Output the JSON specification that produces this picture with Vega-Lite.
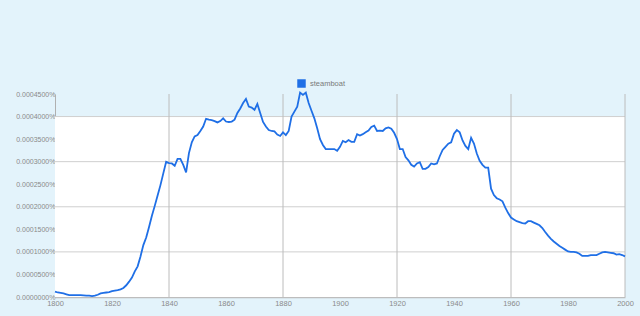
{
  "$schema": "https://vega.github.io/schema/vega-lite/v6.json",
  "width": 570,
  "height": 203,
  "autosize": {"type": "none"},
  "padding": {"left": 55, "top": 94, "right": 15, "bottom": 19},
  "background": "#e3f3fb",
  "config": {
    "view": {"stroke": null},
    "font": "Liberation Sans",
    "axis": {"grid": false, "ticks": false, "labelColor": "#8a8a8a", "labelFont": "Liberation Sans", "labelFlush": false},
    "axisX": {"labelFontSize": 7.5, "labelPadding": 2, "domainColor": "#bdbdbd", "domainWidth": 1.5},
    "axisY": {"labelFontSize": 7, "labelPadding": 0, "domainColor": "#b0b0b0", "domainWidth": 1}
  },
  "datasets": {
    "hgrid": [{"v": 0.0001}, {"v": 0.0002}, {"v": 0.0003}, {"v": 0.0004}],
    "vgrid": [{"year": 1840}, {"year": 1880}, {"year": 1920}, {"year": 1960}, {"year": 2000}],
    "series": [
      {"year":1800,"v":0.000012},{"year":1801,"v":0.000010},{"year":1802,"v":0.000009},{"year":1803,"v":0.000008},{"year":1804,"v":0.000006},
      {"year":1805,"v":0.000004},{"year":1806,"v":0.000004},{"year":1807,"v":0.000004},{"year":1808,"v":0.000004},{"year":1809,"v":0.000004},
      {"year":1810,"v":0.0000035},{"year":1811,"v":0.000003},{"year":1812,"v":0.000003},{"year":1813,"v":0.000002},{"year":1814,"v":0.000003},
      {"year":1815,"v":0.000005},{"year":1816,"v":0.000008},{"year":1817,"v":0.000009},{"year":1818,"v":0.000010},{"year":1819,"v":0.000011},
      {"year":1820,"v":0.000013},{"year":1821,"v":0.000014},{"year":1822,"v":0.000015},{"year":1823,"v":0.000017},{"year":1824,"v":0.000020},
      {"year":1825,"v":0.000026},{"year":1826,"v":0.000034},{"year":1827,"v":0.000043},{"year":1828,"v":0.000057},{"year":1829,"v":0.000068},
      {"year":1830,"v":0.000090},{"year":1831,"v":0.000115},{"year":1832,"v":0.000132},{"year":1833,"v":0.000155},{"year":1834,"v":0.000180},
      {"year":1835,"v":0.000202},{"year":1836,"v":0.000225},{"year":1837,"v":0.000248},{"year":1838,"v":0.000274},{"year":1839,"v":0.000300},
      {"year":1840,"v":0.000297},{"year":1841,"v":0.000296},{"year":1842,"v":0.000291},{"year":1843,"v":0.000306},{"year":1844,"v":0.000306},
      {"year":1845,"v":0.000293},{"year":1846,"v":0.000276},{"year":1847,"v":0.000319},{"year":1848,"v":0.000343},{"year":1849,"v":0.000356},
      {"year":1850,"v":0.000359},{"year":1851,"v":0.000368},{"year":1852,"v":0.000378},{"year":1853,"v":0.000395},{"year":1854,"v":0.000393},
      {"year":1855,"v":0.000392},{"year":1856,"v":0.000390},{"year":1857,"v":0.000387},{"year":1858,"v":0.000390},{"year":1859,"v":0.000396},
      {"year":1860,"v":0.000389},{"year":1861,"v":0.000388},{"year":1862,"v":0.000389},{"year":1863,"v":0.000393},{"year":1864,"v":0.000408},
      {"year":1865,"v":0.000418},{"year":1866,"v":0.000430},{"year":1867,"v":0.000439},{"year":1868,"v":0.000422},{"year":1869,"v":0.000420},
      {"year":1870,"v":0.000415},{"year":1871,"v":0.000428},{"year":1872,"v":0.000408},{"year":1873,"v":0.000388},{"year":1874,"v":0.000378},
      {"year":1875,"v":0.000370},{"year":1876,"v":0.000368},{"year":1877,"v":0.000367},{"year":1878,"v":0.000360},{"year":1879,"v":0.000357},
      {"year":1880,"v":0.000365},{"year":1881,"v":0.000359},{"year":1882,"v":0.000368},{"year":1883,"v":0.000400},{"year":1884,"v":0.000411},
      {"year":1885,"v":0.000422},{"year":1886,"v":0.000453},{"year":1887,"v":0.000448},{"year":1888,"v":0.000453},{"year":1889,"v":0.000430},
      {"year":1890,"v":0.000413},{"year":1891,"v":0.000396},{"year":1892,"v":0.000374},{"year":1893,"v":0.000350},{"year":1894,"v":0.000337},
      {"year":1895,"v":0.000328},{"year":1896,"v":0.000328},{"year":1897,"v":0.000328},{"year":1898,"v":0.000328},{"year":1899,"v":0.000324},
      {"year":1900,"v":0.000333},{"year":1901,"v":0.000346},{"year":1902,"v":0.000343},{"year":1903,"v":0.000348},{"year":1904,"v":0.000344},
      {"year":1905,"v":0.000344},{"year":1906,"v":0.000361},{"year":1907,"v":0.000358},{"year":1908,"v":0.000361},{"year":1909,"v":0.000365},
      {"year":1910,"v":0.000369},{"year":1911,"v":0.000377},{"year":1912,"v":0.000380},{"year":1913,"v":0.000368},{"year":1914,"v":0.000369},
      {"year":1915,"v":0.000368},{"year":1916,"v":0.000374},{"year":1917,"v":0.000376},{"year":1918,"v":0.000373},{"year":1919,"v":0.000364},
      {"year":1920,"v":0.000350},{"year":1921,"v":0.000328},{"year":1922,"v":0.000328},{"year":1923,"v":0.000310},{"year":1924,"v":0.000303},
      {"year":1925,"v":0.000293},{"year":1926,"v":0.000289},{"year":1927,"v":0.000296},{"year":1928,"v":0.000299},{"year":1929,"v":0.000284},
      {"year":1930,"v":0.000284},{"year":1931,"v":0.000288},{"year":1932,"v":0.000296},{"year":1933,"v":0.000294},{"year":1934,"v":0.000296},
      {"year":1935,"v":0.000312},{"year":1936,"v":0.000326},{"year":1937,"v":0.000333},{"year":1938,"v":0.000340},{"year":1939,"v":0.000343},
      {"year":1940,"v":0.000362},{"year":1941,"v":0.000370},{"year":1942,"v":0.000365},{"year":1943,"v":0.000347},{"year":1944,"v":0.000335},
      {"year":1945,"v":0.000328},{"year":1946,"v":0.000353},{"year":1947,"v":0.000340},{"year":1948,"v":0.000318},{"year":1949,"v":0.000302},
      {"year":1950,"v":0.000293},{"year":1951,"v":0.000287},{"year":1952,"v":0.000287},{"year":1953,"v":0.000240},{"year":1954,"v":0.000226},
      {"year":1955,"v":0.000219},{"year":1956,"v":0.000216},{"year":1957,"v":0.000212},{"year":1958,"v":0.000198},{"year":1959,"v":0.000186},
      {"year":1960,"v":0.000176},{"year":1961,"v":0.000172},{"year":1962,"v":0.000168},{"year":1963,"v":0.000166},{"year":1964,"v":0.000164},
      {"year":1965,"v":0.000163},{"year":1966,"v":0.000168},{"year":1967,"v":0.000168},{"year":1968,"v":0.000165},{"year":1969,"v":0.000162},
      {"year":1970,"v":0.000159},{"year":1971,"v":0.000153},{"year":1972,"v":0.000144},{"year":1973,"v":0.000136},{"year":1974,"v":0.000129},
      {"year":1975,"v":0.000123},{"year":1976,"v":0.000118},{"year":1977,"v":0.000113},{"year":1978,"v":0.000109},{"year":1979,"v":0.000105},
      {"year":1980,"v":0.000101},{"year":1981,"v":0.000100},{"year":1982,"v":0.000100},{"year":1983,"v":0.000099},{"year":1984,"v":0.000096},
      {"year":1985,"v":0.000091},{"year":1986,"v":0.000091},{"year":1987,"v":0.000091},{"year":1988,"v":0.000093},{"year":1989,"v":0.000093},
      {"year":1990,"v":0.000093},{"year":1991,"v":0.000096},{"year":1992,"v":0.000099},{"year":1993,"v":0.000100},{"year":1994,"v":0.000099},
      {"year":1995,"v":0.000098},{"year":1996,"v":0.000097},{"year":1997,"v":0.000094},{"year":1998,"v":0.000095},{"year":1999,"v":0.000093},
      {"year":2000,"v":0.000090}
    ]
  },
  "layer": [
    {
      "data": {"values": [{"x0": 1800, "x1": 2000, "y0": 0, "y1": 0.0004}]},
      "mark": {"type": "rect", "color": "#ffffff"},
      "encoding": {
        "x": {"field": "x0", "type": "quantitative", "scale": {"domain": [1800, 2000], "nice": false},
              "axis": {"title": null, "values": [1800, 1820, 1840, 1860, 1880, 1900, 1920, 1940, 1960, 1980, 2000], "format": "d"}},
        "x2": {"field": "x1"},
        "y": {"field": "y0", "type": "quantitative", "scale": {"domain": [0, 0.00045], "nice": false},
              "axis": {"title": null, "values": [0, 0.00005, 0.0001, 0.00015, 0.0002, 0.00025, 0.0003, 0.00035, 0.0004, 0.00045], "labelExpr": "format(datum.value, '.7f') + '%'"}},
        "y2": {"field": "y1"}
      }
    },
    {
      "data": {"name": "hgrid"},
      "mark": {"type": "rule", "color": "#cfcfcf", "strokeWidth": 1},
      "encoding": {
        "y": {"field": "v", "type": "quantitative", "scale": {"domain": [0, 0.00045], "nice": false},
              "axis": {"title": null, "values": [0, 0.00005, 0.0001, 0.00015, 0.0002, 0.00025, 0.0003, 0.00035, 0.0004, 0.00045], "labelExpr": "format(datum.value, '.7f') + '%'"}}
      }
    },
    {
      "data": {"name": "vgrid"},
      "mark": {"type": "rule", "color": "#bcbcbc", "strokeWidth": 1},
      "encoding": {
        "x": {"field": "year", "type": "quantitative", "scale": {"domain": [1800, 2000], "nice": false},
              "axis": {"title": null, "values": [1800, 1820, 1840, 1860, 1880, 1900, 1920, 1940, 1960, 1980, 2000], "format": "d"}}
      }
    },
    {
      "data": {"name": "series"},
      "transform": [{"calculate": "'steamboat'", "as": "term"}],
      "mark": {"type": "line", "strokeWidth": 1.8, "clip": false},
      "encoding": {
        "x": {"field": "year", "type": "quantitative", "scale": {"domain": [1800, 2000], "nice": false},
              "axis": {"title": null, "values": [1800, 1820, 1840, 1860, 1880, 1900, 1920, 1940, 1960, 1980, 2000], "format": "d"}},
        "y": {"field": "v", "type": "quantitative", "scale": {"domain": [0, 0.00045], "nice": false},
              "axis": {"title": null, "values": [0, 0.00005, 0.0001, 0.00015, 0.0002, 0.00025, 0.0003, 0.00035, 0.0004, 0.00045], "labelExpr": "format(datum.value, '.7f') + '%'"}},
        "color": {
          "field": "term", "type": "nominal",
          "scale": {"range": ["#1f6fe6"]},
          "legend": {
            "title": null, "orient": "none", "legendX": 242, "legendY": -15,
            "symbolType": "square", "symbolSize": 72, "symbolFillColor": "#1f6fe6",
            "symbolStrokeWidth": 0, "labelFontSize": 7.5, "labelColor": "#7a7a7a",
            "labelOffset": 4, "padding": 0, "labelFont": "Liberation Sans"
          }
        }
      }
    }
  ]
}
